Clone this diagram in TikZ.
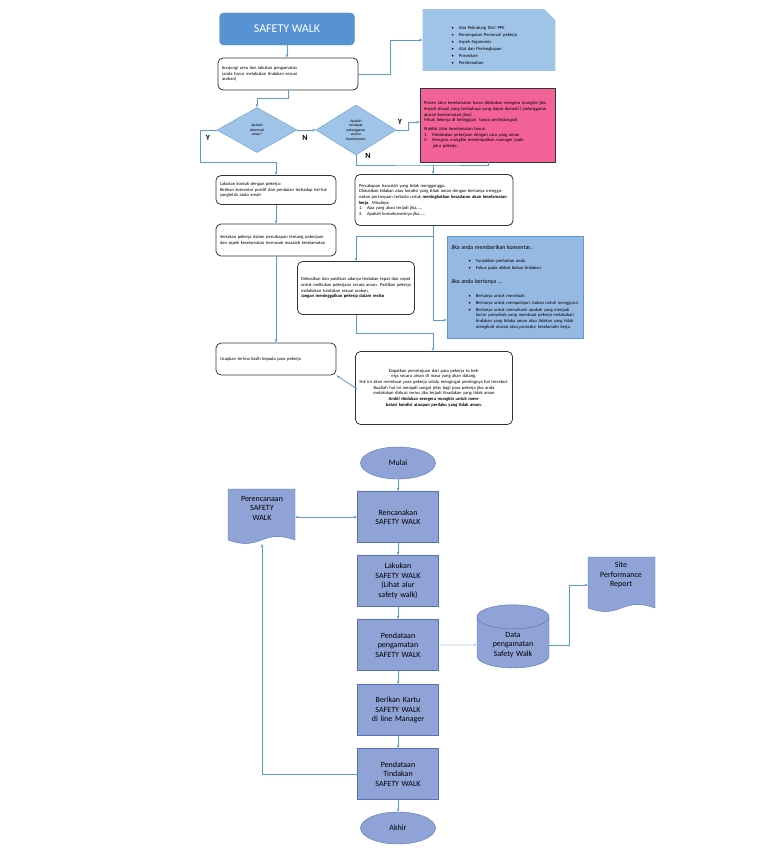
\documentclass[tikz,border=0pt]{standalone}
\usepackage{fontspec}
\setmainfont{Carlito}
\usetikzlibrary{shapes.geometric,shapes.misc,arrows.meta,calc}
\definecolor{linkblue}{RGB}{91,155,213}
\definecolor{titleblue}{RGB}{86,146,212}
\definecolor{paleblue}{RGB}{160,195,232}
\definecolor{midblue}{RGB}{150,185,228}
\definecolor{boxlav}{RGB}{143,163,214}
\definecolor{boxedge}{RGB}{84,113,190}
\definecolor{warnpink}{RGB}{242,98,150}
\newcommand{\wee}{\fontsize{4.6}{5.7}\selectfont}
\newcommand{\docbody}[4]{% x1 y1 x2 y2
  \draw[boxedge, fill=boxlav] (#1,#2) -- (#3,#2) -- (#3,#4)
    .. controls ($(#3,#4)!0.5!(#1,#4)+(0,-12)$) and ($(#3,#4)!0.5!(#1,#4)+(0,12)$) .. (#1,#4) -- cycle;}

\begin{document}
\begin{tikzpicture}[x=1bp, y=-1bp,
    link/.style={draw=linkblue, thick, -{Stealth[length=3.5bp]}},
    plain/.style={draw=linkblue, thick},
    note/.style={draw=black!80, thick, rounded corners=5bp, fill=white, font=\wee, align=left, inner sep=2bp},
    ask/.style={diamond, draw=linkblue, fill=paleblue, inner sep=0pt, font=\fontsize{3.8}{4.6}\selectfont, align=center},
    stage/.style={draw=boxedge, fill=boxlav, minimum width=81bp, minimum height=51bp, text width=74bp, align=center, font=\fontsize{8}{9.5}\selectfont},
    ends/.style={ellipse, draw=boxedge, fill=boxlav, minimum width=75bp, minimum height=32bp, font=\fontsize{8}{9.5}\selectfont},
    yn/.style={font=\bfseries\fontsize{8}{9}\selectfont}]
  \useasboundingbox (0,0) rectangle (768,866);

  % Alur safety walk
  \node[draw=linkblue, fill=titleblue, rounded corners=4bp, minimum width=135bp, minimum height=32bp,
        text=white, font=\fontsize{12}{14}\selectfont] (title) at (287,29) {SAFETY WALK};
  \node[chamfered rectangle, chamfered rectangle corners=north east, chamfered rectangle xsep=8bp,
        fill=paleblue, minimum width=132bp, minimum height=56bp, text width=110bp, font=\wee, align=left] (ppe) at (489,40)
    {\begin{itemize}\setlength{\itemsep}{-2.6bp}\setlength{\leftmargin}{10bp}
     \item Alat Pelindung Diri/ PPE \item Penempatan Personal/ pekerja \item Aspek Ergonomis
     \item Alat dan Perlengkapan \item Prosedure \item Pembenahan\end{itemize}};
  \node[note, minimum width=140bp, minimum height=32bp, text width=132bp] (kunj) at (288,74)
    {Kunjungi area dan lakukan pengamatan\\(anda harus melakukan tindakan sesuai\\arahan)};
  \node[ask, minimum width=80bp, minimum height=45bp] (obs) at (257,130) {Apakah\\observasi\\aman?};
  \node[ask, minimum width=80bp, minimum height=50bp] (lang) at (356,130) {Apakah\\terdapat\\pelanggaran\\aturan\\keselamatan};
  \node[draw=black!80, thick, fill=warnpink, minimum width=135bp, minimum height=74bp, text width=128bp,
        font=\wee, align=left] (pink) at (488,125)
    {Proses Jalur keselamatan harus dilakukan sesegera mungkin jika terjadi situasi yang berbahaya yang dapat diamati ( pelanggaran aturan keselamatan jiwa)\\
     Misal; bekerja di ketinggian\ \ tanpa perlindungan)\\[3bp]
     Praktisi Jalur keselamatan harus:\\
     1.\quad Melakukan pekerjaan dengan cara yang aman\\
     2.\quad Sesegera mungkin menempatkan manager pada\\\hspace*{9bp}jalur pekerja.};
  \node[note, minimum width=120bp, minimum height=29bp, text width=112bp] (kontak) at (276,190)
    {Lakukan kontak dengan pekerja:\\Berikan komentar positif dan pendaian terhadap hal-hal\ \ yangtelah anda amati};
  \node[note, minimum width=158bp, minimum height=51bp, text width=150bp] (perc) at (434,200)
    {Percakapan haruslah yang tidak mengganggu.\\Diskusikan tidakan atau kondisi yang tidak aman dengan bertanya menggunakan pertanyaan terbuka untuk \textbf{meningkatkan kesadaran akan keselamatan kerja}. Misalnya:\\
     1.\quad Apa yang akan terjadi jika.....\\2.\quad Apakah konsekuensinya jika.....};
  \node[note, minimum width=120bp, minimum height=32bp, text width=112bp] (sert) at (276,240)
    {Sertakan pekerja dalam percakapan tentang pekerjaan dan aspek keselamatan termasuk masalah keselamatan};
  \node[draw=linkblue, fill=midblue, minimum width=136bp, minimum height=102bp, text width=128bp,
        font=\wee, align=left] (jika) at (515,287)
    {{\fontsize{6}{7}\selectfont Jika anda memberikan komentar..}
     \begin{itemize}\setlength{\itemsep}{-2.6bp}\setlength{\topsep}{0pt}\setlength{\leftmargin}{10bp}
     \item Tunjukkan perhatian anda \item Fokus pada akibat bukan tindakan\end{itemize}
     {\fontsize{6}{7}\selectfont Jika anda bertanya ...}
     \begin{itemize}\setlength{\itemsep}{-2.6bp}\setlength{\topsep}{0pt}\setlength{\leftmargin}{10bp}
     \item Bertanya untuk menelaah \item Bertanya untuk mempelajari, bukan untuk menggurui
     \item Bertanya untuk memahami apakah yang menjadi factor penyebab yang membuat pekerja melakukan tindakan yang tidaka aman atau tidakan yang tidak mengikuti aturan atau prosedur keselamatn kerja.\end{itemize}};
  \node[note, minimum width=117bp, minimum height=53bp, text width=110bp] (disk) at (356,288)
    {Diskusikan dan pastikan adanya tindakan tepat dan cepat untuk melkukan pekerjaan secara aman. Pastikan pekerja melakukan tundakan sesuai arahan.\\\textbf{Jangan meninggalkan pekerja dalam resiko}};
  \node[note, minimum width=120bp, minimum height=32bp, text width=112bp] (ucap) at (276,359)
    {Ucapkan terima kasih kepada para pekerja};
  \node[note, minimum width=157bp, minimum height=73bp, text width=150bp, align=center] (dapat) at (434,388)
    {Dapatkan persetujuan dari para pekerja to bekerja secara aman di masa yang akan datang.\\Hal ini akan membuat para pekerja selalu mengingat pentingnya hal tersebut.\\Buatlah hal ini menjadi sangat jelas bagi para pekerja jika anda melakukan diskusi serius jika terjadi tinadakan yang tidak aman\\\textbf{Ambil tindakan sesegera mungkin untuk membatasi kondisi ataupun perilaku yang tidak aman.}};

  \node[yn] (yobs) at (208,138) {Y};
  \node[yn] (nobs) at (305,138) {N};
  \node[yn] (ylang) at (400,122) {Y};
  \node[yn] (nlang) at (368,156) {N};

  \coordinate (split) at (433,165);
  \coordinate (fork) at (433,236);
  \coordinate (join) at (433,333);
  \draw[link] (title) -- (title |- kunj.north);
  \draw[link] (kunj.east) -- ++(32,0) |- (ppe.west);
  \draw[link] (kunj.south) -- ++(0,8) -| (obs.north);
  \draw[link] (obs.west) -- ++(-16,0) |- ($(kontak.north)+(0,-13)$) -- (kontak.north);
  \draw[link] (obs.east) -- (lang.west);
  \draw[link] (lang.east) -- ++(12,0) |- ($(pink.west)+(0,-3)$);
  \draw[plain] (lang.south) |- (split) -| (pink.south);
  \draw[link] (split) -- (perc.north -| split);
  \draw[plain] (perc.south -| fork) -- (fork);
  \draw[link] (fork) -| (disk.north);
  \draw[link] (fork) |- ($(jika.west)+(0,33)$);
  \draw[link] (kontak) -- (sert);
  \draw[link] (sert) -- (ucap);
  \draw[plain] (disk.south) |- (join);
  \draw[link] (join) -- (dapat.north -| join);
  \draw[link] ($(dapat.west)+(2,1)$) -- (ucap.south east);

  % Alur pelaksanaan
  \node[ends] (mulai) at (398,463) {Mulai};
  \node[stage] (renc) at (398,517) {Rencanakan\\SAFETY WALK};
  \node[stage] (lak) at (398,581) {Lakukan\\SAFETY WALK\\(Lihat alur safety walk)};
  \node[stage] (pengm) at (398,645) {Pendataan\\pengamatan\\SAFETY WALK};
  \node[stage] (kartu) at (398,710) {Berikan Kartu\\SAFETY WALK\\di line Manager};
  \node[stage] (tind) at (398,774) {Pendataan\\Tindakan\\SAFETY WALK};
  \node[ends] (akhir) at (398,828) {Akhir};
  \docbody{228}{489}{295}{540}
  \node[font=\fontsize{8}{9.5}\selectfont, align=center] (plan) at (262,508) {Perencanaan\\SAFETY\\WALK};
  \coordinate (planbot) at (262,544);
  \docbody{588}{557}{655}{608}
  \node[font=\fontsize{8}{9.5}\selectfont, align=center] (site) at (621,575) {Site\\Performance\\Report};
  \coordinate (siteleft) at (588,585);
  \node[cylinder, shape border rotate=90, aspect=0.35, draw=boxedge, fill=boxlav, minimum width=72bp,
        minimum height=60bp, text width=62bp, align=center, font=\fontsize{8}{9.5}\selectfont] (data) at (513,645)
    {Data\\pengamatan\\Safety Walk};

  \draw[link] (mulai) -- (renc);
  \draw[link] (renc) -- (lak);
  \draw[link] (lak) -- (pengm);
  \draw[link] (pengm) -- (kartu);
  \draw[link] (kartu) -- (tind);
  \draw[link] (tind) -- (akhir);
  \draw[draw=linkblue, thick, {Stealth[length=3.5bp]}-{Stealth[length=3.5bp]}] (295,517) -- (renc.west);
  \draw[link, draw=linkblue!50] (pengm) -- (data);
  \draw[link] (data.east) -- ++(20,0) |- (siteleft);
  \draw[link] (tind.west) -| (planbot);
\end{tikzpicture}
\end{document}
